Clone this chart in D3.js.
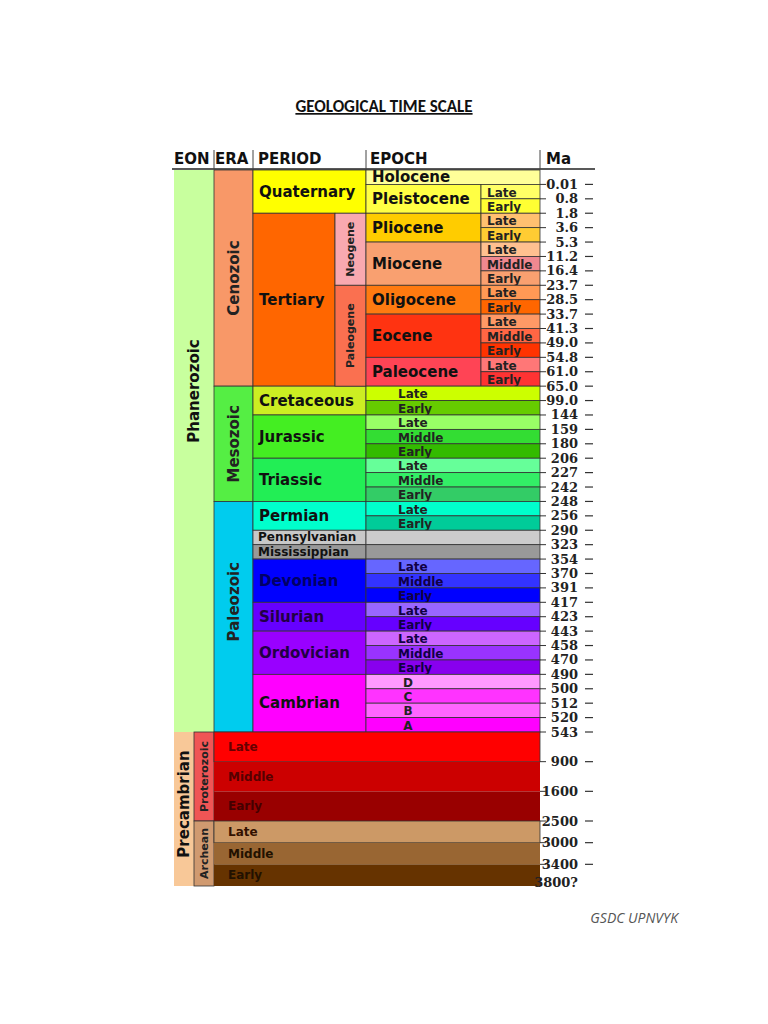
<!DOCTYPE html>
<html><head><meta charset="utf-8">
<script src="https://cdn.jsdelivr.net/npm/d3@7"></script>
<style>body{margin:0;background:#fff}svg{display:block}</style>
</head><body>
<svg id="c" width="768" height="1024"></svg>
<script>
// [name, startRow, endRow, color]
const eons = [["Phanerozoic",0,39,"#c8ff9e"],["Precambrian",39,45,"#f8c898"]];
const eras = [["Cenozoic",0,15,"#f89868"],["Mesozoic",15,23,"#55ee44"],["Paleozoic",23,39,"#00ccee"],
  ["Proterozoic",39,42,"#f05555"],["Archean",42,45,"#d09a70"]];
const periods = [["Quaternary",0,3,"#ffff00",1],["Tertiary",3,15,"#ff6600",0],["Cretaceous",15,17,"#ccee22",1],
  ["Jurassic",17,20,"#44ee22",1],["Triassic",20,23,"#22ee55",1],["Permian",23,25,"#00ffcc",1],
  ["Pennsylvanian",25,26,"#c8c8c8",1],["Mississippian",26,27,"#999999",1],["Devonian",27,30,"#0000ff",1],
  ["Silurian",30,32,"#6600ff",1],["Ordovician",32,35,"#9900ff",1],["Cambrian",35,39,"#ff00ff",1]];
const subperiods = [["Neogene",3,8,"#f9a9b0"],["Paleogene",8,15,"#fa7050"]];
const epochs = [["Holocene",0,1,"#ffff99"],["Pleistocene",1,3,"#ffff44"],["Pliocene",3,5,"#ffcc00"],
  ["Miocene",5,8,"#f9a070"],["Oligocene",8,10,"#ff7a10"],["Eocene",10,13,"#ff3311"],["Paleocene",13,15,"#ff4455"]];
const cenoSubs = [["Late","#ffff66"],["Early","#ffff33"],["Late","#ffc070"],["Early","#ffcc33"],
  ["Late","#ffc090"],["Middle","#f08890"],["Early","#f9a070"],["Late","#ff9955"],["Early","#ff6600"],
  ["Late","#ff9966"],["Middle","#ff6644"],["Early","#ff3300"],["Late","#ff7777"],["Early","#ff3333"]];
const olderSubs = [["Late","#ccff00"],["Early","#66cc00"],["Late","#99ff66"],["Middle","#33dd33"],["Early","#33bb00"],
  ["Late","#66ff99"],["Middle","#33ee66"],["Early","#33cc66"],["Late","#00ffcc"],["Early","#00cc99"],
  ["","#cccccc"],["","#999999"],["Late","#6666ff"],["Middle","#3333ff"],["Early","#0000ff"],
  ["Late","#9966ff"],["Early","#6600ff"],["Late","#cc66ff"],["Middle","#9933ff"],["Early","#8800ee"],
  ["D","#ff99ff"],["C","#ff33ff"],["B","#ff66ff"],["A","#ff00ff"]];
const preSubs = [["Late","#ff0000","#660000"],["Middle","#cc0000","#550000"],["Early","#990000","#440000"],
  ["Late","#cc9966","#331100"],["Middle","#996633","#221100"],["Early","#663300","#221100"]];
const maLabels = ["0.01","0.8","1.8","3.6","5.3","11.2","16.4","23.7","28.5","33.7","41.3","49.0","54.8","61.0","65.0",
  "99.0","144","159","180","206","227","242","248","256","290","323","354","370","391","417","423","443","458","470",
  "490","500","512","520","543","900","1600","2500","3000","3400","3800?"];
const headers = ["EON","ERA","PERIOD","EPOCH","Ma"];

const svg = d3.select("#c");
const y = d3.scaleLinear().domain([0,39,42,45]).range([170,732,821,886]);
const x = {eon:174, era:214, per:253, sub:335, epo:366, sb:481, end:540};
const F = "Verdana, 'DejaVu Sans', sans-serif";
const g = svg.append("g");
function rect(x0,x1,r0,r1,c){g.append("rect").attr("x",x0).attr("y",y(r0)).attr("width",x1-x0).attr("height",y(r1)-y(r0))
  .attr("fill",c).attr("stroke","#333").attr("stroke-width",0.8);}
function txt(t,xx,yy,size,col,rot,anchor){const e=g.append("text").text(t).attr("font-family",F).attr("font-weight","bold")
  .attr("font-size",size).attr("fill",col||"#111").attr("dominant-baseline","central").attr("text-anchor",anchor||"start");
  if(rot) e.attr("transform",`translate(${xx},${yy}) rotate(-90)`).attr("text-anchor","middle"); else e.attr("x",xx).attr("y",yy); return e;}

// eons
eons.forEach(([n,a,b,c],i)=>{const x1 = i==0?x.era:194; g.append("rect").attr("x",x.eon).attr("y",y(a)).attr("width",x1-x.eon)
  .attr("height",y(b)-y(a)).attr("fill",c); txt(n,(x.eon+x1)/2,(y(a)+y(b))/2+(i==0?-60:-5),15,"#111",true);});
// eras
eras.forEach(([n,a,b,c],i)=>{const x0=i<3?x.era:194, x1=i<3?x.per:x.era; rect(x0,x1,a,b,c);
  txt(n,(x0+x1)/2,i<3?(y(a)+y(b))/2-(i==2?15:0):(y(a)+y(b))/2,i<3?15:11,"#222",true);});
// periods
periods.forEach(([n,a,b,c,w])=>{rect(x.per,w?x.epo:x.sub,a,b,c);
  const long=n.length>11; txt(n,x.per+(long?5:6),(y(a)+y(b))/2,long?12:15,n=="Devonian"?"#000066":(n=="Silurian"||n=="Ordovician")?"#220044":"#111");});
subperiods.forEach(([n,a,b,c])=>{rect(x.sub,x.epo,a,b,c); txt(n,(x.sub+x.epo)/2,(y(a)+y(b))/2,11,"#222",true);});
// epochs
epochs.forEach(([n,a,b,c],i)=>{rect(x.epo,i==0?x.end:x.sb,a,b,c); txt(n,x.epo+6,(y(a)+y(b))/2,15,"#111");});
cenoSubs.forEach(([n,c],i)=>{rect(x.sb,x.end,i+1,i+2,c); txt(n,x.sb+6,(y(i+1)+y(i+2))/2+1,12,"#222");});
olderSubs.forEach(([n,c],i)=>{const r=i+15; rect(x.epo,x.end,r,r+1,c);
  const single=n.length==1; txt(n,single?408:x.epo+32,(y(r)+y(r+1))/2+1,12,(i>=12&&i<=19)?"#110044":"#222",false,single?"middle":"start");});
preSubs.forEach(([n,c,tc],i)=>{const r=i+39; g.append("rect").attr("x",x.era).attr("y",y(r)).attr("width",x.end-x.era)
  .attr("height",y(r+1)-y(r)).attr("fill",c).attr("stroke",i==3||i==0?"#333":"none").attr("stroke-width",0.8);
  txt(n,x.era+14,(y(r)+y(r+1))/2,12,tc);});

// headers
const hx=[174,215,258,370,546];
headers.forEach((h,i)=>txt(h,hx[i],159,15,"#111"));
g.append("line").attr("x1",172).attr("x2",595).attr("y1",169).attr("y2",169).attr("stroke","#222").attr("stroke-width",1.5);
[214,253,366,540].forEach(v=>g.append("line").attr("x1",v).attr("x2",v).attr("y1",150).attr("y2",169).attr("stroke","#444"));

// Ma axis
maLabels.forEach((m,i)=>{const yy=y(i+1); const last=i==maLabels.length-1;
  txt(m,578,last?yy-4:yy,13,"#222",false,"end").attr("font-family","'DejaVu Serif', serif");
  if(!last) g.append("line").attr("x1",585).attr("x2",593).attr("y1",yy).attr("y2",yy).attr("stroke","#333").attr("stroke-width",1.2);
  if(!last) g.append("line").attr("x1",540).attr("x2",546).attr("y1",yy).attr("y2",yy).attr("stroke","#333");});

// title
svg.append("text").text("GEOLOGICAL TIME SCALE").attr("x",384).attr("y",112).attr("text-anchor","middle")
  .attr("font-family","Calibri, Carlito, 'Open Sans', sans-serif").attr("font-weight","bold").attr("font-size",17)
  .attr("text-decoration","underline").attr("fill","#111");
svg.append("text").text("GSDC UPNVYK").attr("x",678).attr("y",923).attr("text-anchor","end")
  .attr("font-family","'Open Sans', sans-serif").attr("font-style","italic").attr("font-size",14).attr("fill","#555");
</script></body></html>
